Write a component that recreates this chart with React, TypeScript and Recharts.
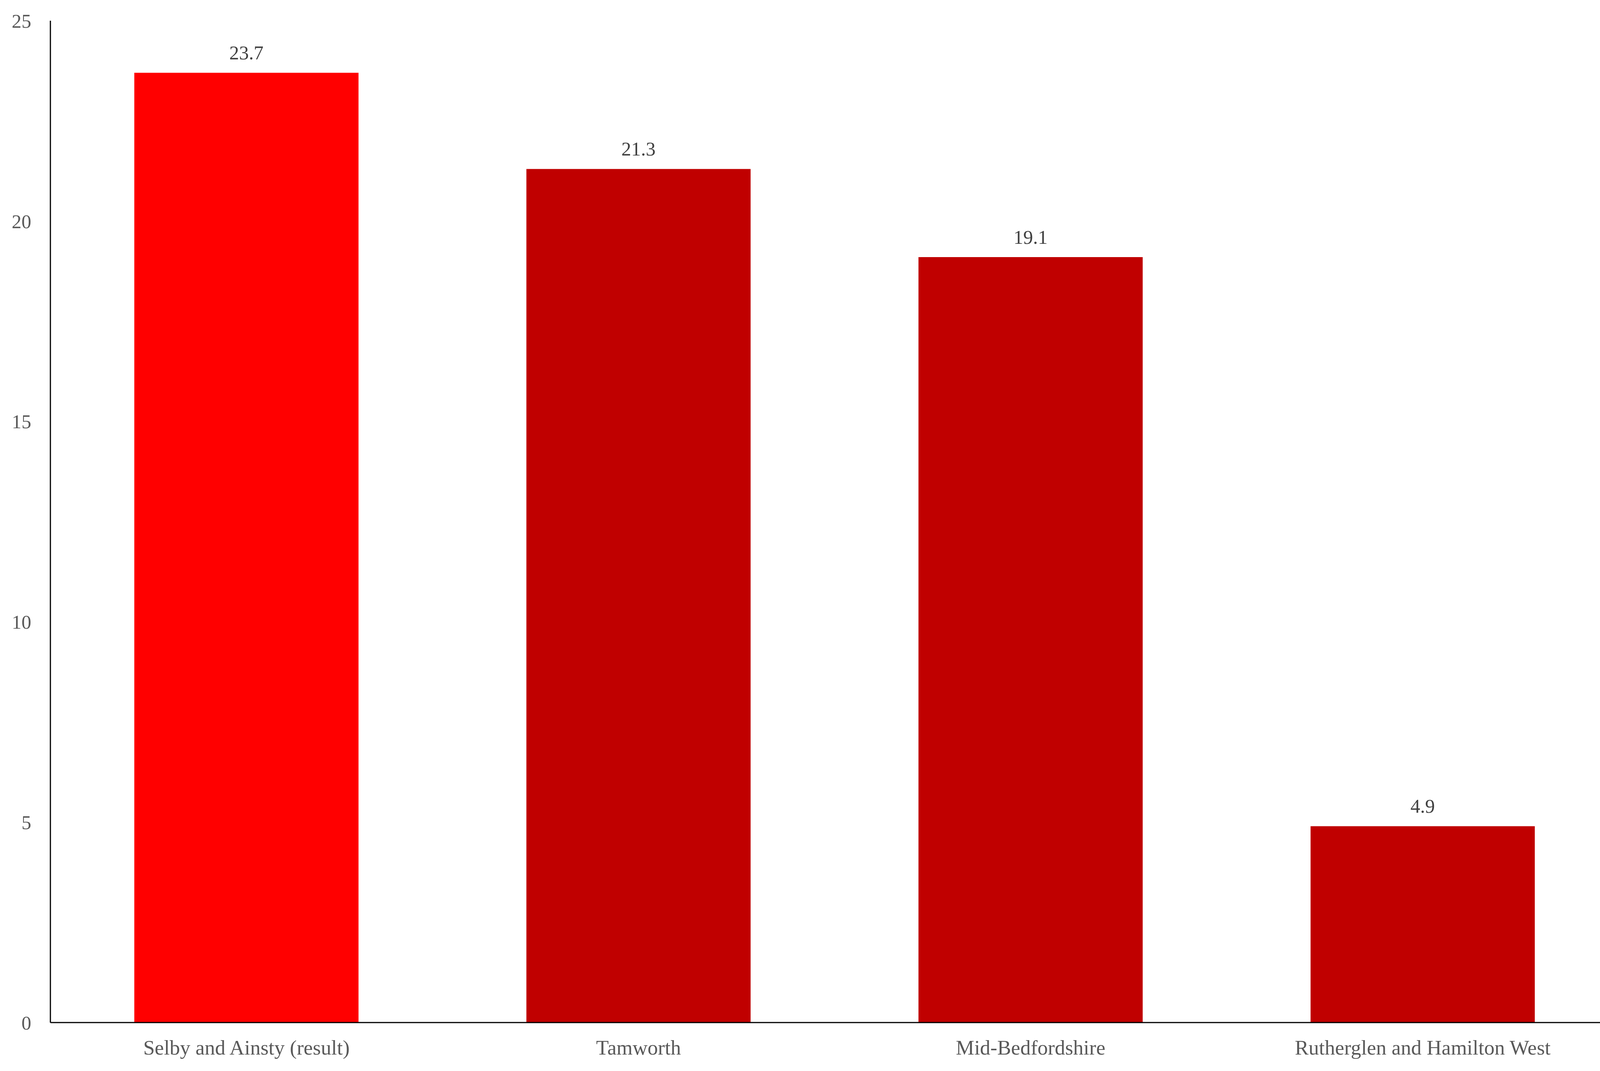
import { Bar, BarChart, Cell, LabelList, XAxis, YAxis } from 'recharts';

const constituencies = ['Selby and Ainsty (result)', 'Tamworth', 'Mid-Bedfordshire', 'Rutherglen and Hamilton West'];
const swing = [23.7, 21.3, 19.1, 4.9];
const barColors = ['#FF0000', '#C00000', '#C00000', '#C00000'];
const yTicks = [0, 5, 10, 15, 20, 25];

const data = constituencies.map((name, i) => ({ name, value: swing[i] }));

const font = '"Liberation Serif", "DejaVu Serif", serif';

export default function App() {
  return (
    <div style={{ position: 'absolute', left: 0, top: 0, background: '#fff' }}>
      <BarChart
        width={4195}
        height={2741}
        data={data}
        margin={{ top: 53, right: 51, bottom: 0, left: 0 }}
        barCategoryGap="21.4%"
      >
        <XAxis
          dataKey="name"
          height={124}
          interval={0}
          tickLine={false}
          tickSize={0}
          tickMargin={44}
          axisLine={{ stroke: '#000', strokeWidth: 3 }}
          tick={{ fill: '#595959', fontSize: 53, fontFamily: font }}
        />
        <YAxis
          width={129}
          domain={[0, 25]}
          ticks={yTicks}
          tickLine={false}
          tickSize={0}
          tickMargin={49}
          axisLine={{ stroke: '#000', strokeWidth: 3 }}
          tick={{ fill: '#595959', fontSize: 50, fontFamily: font }}
        />
        <Bar dataKey="value" isAnimationActive={false}>
          {data.map((d, i) => (
            <Cell key={d.name} fill={barColors[i]} />
          ))}
          <LabelList
            dataKey="value"
            position="top"
            offset={34}
            fill="#404040"
            fontSize={50}
            fontFamily={font}
          />
        </Bar>
      </BarChart>
    </div>
  );
}
